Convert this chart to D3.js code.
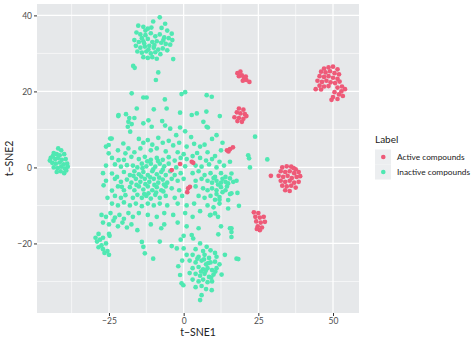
<!DOCTYPE html>
<html><head><meta charset="utf-8">
<script src="https://cdn.jsdelivr.net/npm/d3@7"></script>
<style>body{margin:0;background:#fff}svg{display:block}text{font-family:Lato,"Open Sans",sans-serif}</style>
</head><body><svg id="c" width="474" height="340"></svg>
<script>
const xTicks=[-25,0,25,50];
const yTicks=[-20,0,20,40];
const labels=["Active compounds","Inactive compounds"];
const inactive=[
// top cluster
[-8,39.5],[-10.2,38.4],[-15.2,37.3],[-13.5,37],[-12,36.5],[-7.4,36.7],[-5.5,36],[-4,35.2],[-15.8,35.5],[-14.5,35],[-12.8,34.8],[-11,35.3],[-9.5,34.5],[-8,35],[-6.5,34.2],[-5,34],[-3.8,33.5],[-16.5,33.5],[-15,33],[-13.5,33.2],[-12,33.8],[-10.5,33],[-9,33.2],[-7.5,32.8],[-6,32.5],[-4.5,32.3],[-16,32],[-14.5,31.5],[-13,31.8],[-11.5,32],[-10,31.5],[-8.5,31],[-7,31.3],[-5.5,30.8],[-15.5,30.5],[-14,30.2],[-12.5,30.5],[-11,30],[-9.5,30.3],[-7.8,29.8],[-13.5,29],[-12,28.8],[-10.5,29],[-9,28.6],[-3.5,28.5],[-16.9,26.7],[-16.4,26.2],[-8.5,25],[-9.3,23],[-12.8,36],[-10.8,36.8],[-6.2,37.8],
[-14,34],[-11.8,31],[-9.8,32.2],[-6.8,33.5],[-13.2,32.6],
// left cluster
[-42,5],[-41,4.5],[-43.5,3.8],[-42.5,3.5],[-41.5,3.2],[-40,3.5],[-44.5,2.5],[-43,2.2],[-42,2.5],[-40.8,2],[-39.5,2.2],[-44,1.2],[-42.8,1],[-41.5,1.3],[-40.2,0.8],[-39,1],[-43.5,0],[-42.2,-0.2],[-41,0.2],[-39.8,-0.3],[-42.5,-1.2],[-41.2,-1],[-40,-1.5],[-39.3,-0.8],[-44.8,1.8],[-43.8,3],[-38.8,0.2],
// lower-left cluster
[-29.5,-18.5],[-28.5,-17.5],[-29,-19.5],[-28,-19],[-27.5,-20.5],[-28.5,-21],[-27,-21.5],[-26.5,-22.5],[-25.5,-22],[-25,-23],[-26,-20],[-27,-18.5],[-24.8,-18],
// upper sparse
[-17.4,19.5],[-13.5,18.4],[-12.4,18.4],[-6.3,17.9],[-0.7,19.3],[0.5,19.8],[7.7,19],[9.4,18.6],
[-15.7,15.5],[-10,15.3],[-5.7,15.5],[-1.2,14.4],[2.7,13.8],[4.4,14.2],[7.6,14.7],[12.1,13.5],
[-21.9,13.5],[-19.3,14],[-18.2,13],[-16.5,13],[-18.5,12],[-17.4,11.4],[-18.7,10.7],[-17.9,9.4],
[-13.5,11.6],[-11.8,12.4],[-10.7,10.7],[-7.2,12.2],[-6.2,11],[-4.5,10.2],[-1.2,10.5],[6.6,12],[7.7,10.7],[8.1,10.5],[0.5,9.5],[-2.5,8.5],[2.5,8],
[-24.1,7.6],[-20.2,6.3],[-15,7.5],[-13.5,6.5],[-12,7.2],[-10.5,6],[-8.5,7.8],[-7,6.5],[-5,7],[-3.5,5.8],[-1.5,6.5],[1,5.5],[3.5,6.2],[5.5,5.5],[7,6],[9.5,7.5],[11,8.5],[13,6.5],
[-26,5.5],[-22,4.5],[-18.5,5],[-16.5,4],[-14.5,5],[-11,4.5],[-9,5],[-6,4.2],[-2,4],[0,3.5],[4.5,3.8],[8,4],[10.5,3],[12.5,4.5],
[-21.8,13.8],[-24.6,7.6],[-25.1,5.9],[-25.1,3.7],[-19.5,3.7],[-21.8,1.9],[-19,0.6],[-24,-1.6],[-22.3,-2.5],[-26.8,-4.7],[-24,-6.1],[-20.7,-5.1],[-19.5,-7.3],
// dense zone
[-24,2.5],[-20,2],[-17.5,2.8],[-15,2.2],[-13,2.8],[-11,2],[-9,2.5],[-7,2],[-5,2.7],[-3,1.8],[-1,2.5],[1,2.2],[3,3],[5.5,2.5],[7.5,1.8],[9.5,2.2],[12,1.5],
[-26,0.5],[-23,0.8],[-21,0.2],[-17,0.5],[-15.5,0],[-14,1],[-12.5,0.3],[-11,1],[-9.5,0.2],[-8,1],[-6.5,0.3],[-5,1],[-2.5,0],[0.5,0.3],[4,0.5],[6,0.2],[8.5,0.8],[11,0],[13.5,0.5],
[-27,-1.5],[-20,-1.2],[-18,-2],[-16.5,-1],[-15,-1.8],[-13.5,-1.2],[-12,-2],[-10.5,-1],[-9,-1.8],[-7.5,-1.2],[-6,-2],[-4.5,-1],[-3,-2],[-1,-1.5],[3,-1.5],[5,-1],[7,-2],[9,-1.5],[10.5,-2.5],[12.5,-1.5],[14,-2.5],
[-26,-3.5],[-23,-3],[-21,-3.8],[-19,-3.2],[-17.5,-4],[-16,-3],[-14.5,-3.8],[-13,-3],[-11.5,-3.8],[-10,-3],[-8.5,-4],[-7,-3.2],[-5.5,-4],[-4,-3],[-2,-3.5],[0,-3],[4,-3.5],[6,-3],[8,-3.5],[9.5,-4],[11,-3.5],[12.5,-4],[14,-3.8],
[-22,-5],[-20,-6],[-18,-5.2],[-16.5,-6],[-15,-5],[-13.5,-5.8],[-12,-5],[-10.5,-6],[-9,-5.2],[-7.5,-6],[-6,-5],[-4,-5.5],[-1.5,-6],[4,-5],[6.5,-5.5],[8,-6],[9.5,-5.5],[11,-6],[12.5,-5.2],[14,-6],
[-25.5,-8],[-23,-7.5],[-21,-8],[-17,-8],[-15.5,-7.2],[-14,-8],[-12.5,-7.5],[-11,-8.2],[-9.5,-7.2],[-8,-8],[-6,-7.5],[-3,-8],[-0.5,-7.5],[5,-7.5],[7,-8],[9,-7.5],[10.5,-8.5],[12,-7.8],
[-24,-9.5],[-22,-10],[-20,-9.2],[-18,-10],[-16,-9.5],[-14,-10.2],[-12,-9.5],[-10,-10],[-8,-9.5],[-5.5,-10],[-2,-9.5],[1,-10],[3.5,-9.5],[8,-10],[10,-10.5],[12,-9.5],
[-27.5,-12.5],[-26,-13],[-24.5,-12],[-23,-13.2],[-21.5,-12.5],[-20,-13.5],[-18.5,-12],[-17,-13],[-15,-12],[-12,-12.5],[-9,-13],[-6.5,-12],[-3.5,-12.5],[0.5,-12],[3,-13],[5.5,-11.5],[9,-12.5],[11.5,-13],
[-27,-14.5],[-25,-15],[-23.5,-14],[-22,-15.5],[-20.5,-14.5],[-19,-15.8],[-17.5,-15],[-15.5,-16.5],[-11,-15],[-7.5,-16],[-6.5,-15],[-2,-14.5],[1,-15.5],[5,-16],[12.5,-15.5],
[-25,-17.5],[-14,-19.6],[-13.5,-20.9],[-13,-22.6],[-10.2,-24],[-8,-19.5],[-1,-19],[0,-18],
// extra density in the core
[-14.2,-2.4],[-12.8,-4.4],[-11.2,-2.6],[-9.8,-4.6],[-8.2,-2.7],[-6.6,-4.5],[-13.8,-0.2],[-10.2,-0.5],[-7,-0.6],[-12.2,1.6],[-8.6,1.7],[-15.8,-4.6],[-16.8,-2.2],[-11.8,-6.8],[-9.2,-6.6],[-6.8,-6.3],[-13.2,-7],
// right side
[10,-2.8],[11.5,-4.5],[13,-3],[14.5,-5],[13,-6.5],[11,-7],[15.5,-7],[12,-8.5],
[8.8,-12.6],[10.5,-12.1],[11.6,-17.6],[15.5,-16],[16,-17],[17.7,-24],
[23.9,8.1],[21.6,3.2],[21.9,2.4],[28,2.1],[22.2,0],[15.5,1.5],[16,-1.6],[15.5,-2.9],[14.9,-4.2],[16.6,-3.8],[17.7,-3.5],[16,-6.8],[18,-6.7],[14.9,-8.6],[18.5,-10.1],[14.9,-10.8],[16,-16],[16,-18.3],[18.3,-24.1],
// bottom cluster
[2.7,-17.8],[3.2,-18.7],[5.5,-20],[7.7,-20.9],[4,-21.5],[6.5,-22],[9,-21.8],[10.5,-22.5],[3,-23],[5,-23.5],[7,-23],[8.5,-23.8],[11,-23.5],[13.8,-23],[2,-24.5],[4,-25],[6,-24.5],[7.5,-25.5],[9,-25],[10.5,-24.8],[12,-25.5],[3,-26.5],[5,-26.2],[6.5,-26.8],[8,-26.5],[9.5,-27],[11,-26.5],[2,-27.8],[4,-28],[5.5,-28.5],[7,-28],[8.5,-28.8],[10,-28.2],[12.7,-28.2],[3,-29.5],[5,-30],[6.5,-29.5],[8,-30.2],[9.5,-30],[4,-31.5],[6,-31.2],[7.5,-32],[9.4,-32.3],[6,-33.6],[5.5,-34.9],[-1.8,-26],[-1.2,-28.3],[-0.7,-30.5],[-0.1,-31],[0,-21.3],[-2.3,-21.3],[-4,-20.7],[-0.5,-24.5],[1,-23],
[6.8,-24.2],[8.2,-25.2],[5.8,-27.4],[7.4,-27.2],[9.2,-29],[4.6,-24],[10.6,-27.4]
];
const active=[
[18,24.8],[19,25.2],[18.5,24],[19.5,24.2],[20.2,23.5],[21,23],[22,22.5],[19.8,22.8],[20.8,23.9],
[18.5,15.5],[20,15.2],[17.8,14.5],[19,14.2],[20.5,14],[17,13.2],[18.5,13],[20,12.8],[19.5,12],[21,13.5],[18,12.2],
[14.5,4.5],[15.5,4.8],[16.5,5.3],[15,4.2],
[33,0],[34.5,0.3],[36,0.2],[37.5,-0.5],[32.5,-1],[34,-1.2],[35.5,-1],[37,-1.5],[38.5,-1.2],[31.8,-2.2],[33.3,-2.5],[34.8,-2.2],[36.2,-2.8],[37.8,-2.5],[39,-2.3],[32.5,-3.5],[34,-3.8],[35.5,-3.5],[37,-4],[38.5,-3.8],[33,-4.8],[34.5,-5],[36,-4.8],[37.5,-5.3],[34,-6],[35.5,-6.2],[29.2,-2.2],[36.8,-0.2],
[23.5,-11.8],[25,-12],[24,-13],[25.5,-13.2],[26.8,-13],[24.3,-14.2],[25.8,-14.5],[27.2,-14.3],[24.8,-15.5],[26.2,-15.8],[25.5,-16.5],[24.5,-16.2],
[47,26],[48.5,26.3],[50,26.5],[51.5,25.8],[46,25.2],[47.5,25],[49,25.3],[50.5,24.8],[52,24.5],[45.5,24],[47,23.8],[48.5,24],[50,23.6],[51.5,23.3],[44.8,22.8],[46.3,22.5],[47.8,22.8],[49.2,22.4],[50.7,22.2],[52.2,22.6],[45.5,21.5],[47,21.3],[48.5,21.4],[44.2,20.6],[46,20.5],[53,21.3],[51.5,21],[52.8,20],[54,20.6],[50.5,19.8],[52,19.2],[53.3,18.8],[50,18.5],[51.5,18],[49.5,17.8],
[-4,-0.7],[-1.2,0.9],[2.7,1.5],[3.2,1.2],[1.5,-5.5],[2.1,-5.1],[1.2,-6.5]
];
const colors=["#ee5a78","#4fe8b2"];

const svg=d3.select("#c");
const L=37,R=359,T=4,B=313;
const x=d3.scaleLinear().domain([-49.1,58.7]).range([L,R]);
const y=d3.scaleLinear().domain([-38.3,43]).range([B,T]);
svg.append("rect").attr("x",L).attr("y",T).attr("width",R-L).attr("height",B-T).attr("fill","#e6e8ea");
const xMinor=[-37.5,-12.5,12.5,37.5], yMinor=[-30,-10,10,30];
const g=svg.append("g");
g.selectAll(".xm").data(xMinor).join("line").attr("x1",d=>x(d)).attr("x2",d=>x(d)).attr("y1",T).attr("y2",B).attr("stroke","#fff").attr("stroke-width",0.6);
g.selectAll(".ym").data(yMinor).join("line").attr("y1",d=>y(d)).attr("y2",d=>y(d)).attr("x1",L).attr("x2",R).attr("stroke","#fff").attr("stroke-width",0.6);
g.selectAll(".xM").data(xTicks).join("line").attr("x1",d=>x(d)).attr("x2",d=>x(d)).attr("y1",T).attr("y2",B).attr("stroke","#fff").attr("stroke-width",1.2);
g.selectAll(".yM").data(yTicks).join("line").attr("y1",d=>y(d)).attr("y2",d=>y(d)).attr("x1",L).attr("x2",R).attr("stroke","#fff").attr("stroke-width",1.2);

svg.append("g").selectAll("circle").data(inactive).join("circle").attr("cx",d=>x(d[0])).attr("cy",d=>y(d[1])).attr("r",2.35).attr("fill",colors[1]);
svg.append("g").selectAll("circle").data(active).join("circle").attr("cx",d=>x(d[0])).attr("cy",d=>y(d[1])).attr("r",2.35).attr("fill",colors[0]);

const xa=svg.append("g").attr("transform",`translate(0,${B})`).call(d3.axisBottom(x).tickValues(xTicks).tickSize(3).tickPadding(2));
const ya=svg.append("g").attr("transform",`translate(${L},0)`).call(d3.axisLeft(y).tickValues(yTicks).tickSize(3).tickPadding(2).tickFormat(d=>d<0?"−"+Math.abs(d):d));
xa.call(g=>g.select(".domain").remove());ya.call(g=>g.select(".domain").remove());
xa.selectAll("text").attr("fill","#4d4d4d").attr("font-size",8.5);
ya.selectAll("text").attr("fill","#4d4d4d").attr("font-size",8.5);
xa.selectAll("line").attr("stroke","#333");ya.selectAll("line").attr("stroke","#333");
xa.selectAll("text").text(d=>d<0?"−"+Math.abs(d):d);

svg.append("text").attr("x",(L+R)/2).attr("y",336).attr("text-anchor","middle").attr("font-size",10.5).attr("fill","#222").text("t−SNE1");
svg.append("text").attr("transform",`translate(13,${(T+B)/2}) rotate(-90)`).attr("text-anchor","middle").attr("font-size",10.5).attr("fill","#222").text("t−SNE2");

const lg=svg.append("g").attr("transform","translate(375,0)");
lg.append("text").attr("x",0).attr("y",143).attr("font-size",10).attr("fill","#222").text("Label");
labels.forEach((t,i)=>{
  const cy=157+i*15;
  lg.append("rect").attr("x",0).attr("y",cy-7.5).attr("width",16).attr("height",15).attr("fill","#eceef0");
  lg.append("circle").attr("cx",8.3).attr("cy",cy).attr("r",2.3).attr("fill",colors[i]);
  lg.append("text").attr("x",22).attr("y",cy+3).attr("font-size",8.3).attr("fill","#222").text(t);
});
</script></body></html>
